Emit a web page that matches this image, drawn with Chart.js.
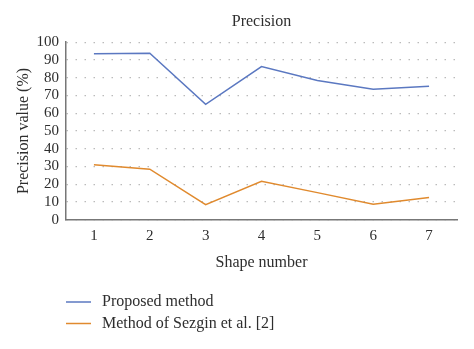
<!DOCTYPE html>
<html>
<head>
<meta charset="utf-8">
<script src="https://cdn.jsdelivr.net/npm/chart.js@4/dist/chart.umd.min.js"></script>
<style>
  html, body { margin: 0; padding: 0; background: #fff; }
  #wrap { width: 474px; height: 349px; position: relative; }
</style>
</head>
<body>
<div id="wrap"><canvas id="c"></canvas></div>
<script>
// data
const shapes = ["1", "2", "3", "4", "5", "6", "7"];
const proposed = [93.5, 93.8, 65, 86.3, 78.4, 73.5, 75.2];
const sezgin = [31, 28.5, 8.5, 21.7, 15.3, 8.7, 12.5];
const seriesNames = ["Proposed method", "Method of Sezgin et al. [2]"];

const serif = "'Liberation Serif', 'DejaVu Serif', serif";
const textColor = "#2e2e2e";

// legend stacked under the chart, like the original
const stackedLegend = {
  id: "stackedLegend",
  afterDraw(chart) {
    const ctx = chart.ctx;
    const left = chart.chartArea.left;
    ctx.save();
    ctx.font = "16px " + serif;
    ctx.textBaseline = "middle";
    chart.data.datasets.forEach((ds, i) => {
      const y = 302 + i * 21.5;
      ctx.strokeStyle = ds.borderColor;
      ctx.lineWidth = 1.5;
      ctx.beginPath();
      ctx.moveTo(left, y);
      ctx.lineTo(left + 25, y);
      ctx.stroke();
      ctx.fillStyle = textColor;
      ctx.fillText(ds.label, left + 36, y);
    });
    ctx.restore();
  }
};

new Chart(document.getElementById("c"), {
  type: "line",
  data: {
    labels: shapes,
    datasets: [
      {
        label: seriesNames[0],
        data: proposed,
        borderColor: "#5b78c1",
        borderWidth: 1.5,
        pointRadius: 0,
        tension: 0
      },
      {
        label: seriesNames[1],
        data: sezgin,
        borderColor: "#e08a2e",
        borderWidth: 1.5,
        pointRadius: 0,
        tension: 0
      }
    ]
  },
  options: {
    responsive: true,
    maintainAspectRatio: false,
    animation: false,
    layout: { padding: { left: 10, right: 17, top: 12, bottom: 73 } },
    scales: {
      x: {
        offset: true,
        grid: { display: false, drawTicks: false },
        border: { color: "#777", width: 1.5 },
        ticks: { color: textColor, font: { family: serif, size: 15 }, padding: 7 },
        title: {
          display: true,
          text: "Shape number",
          color: textColor,
          font: { family: serif, size: 16 },
          padding: { top: 1, bottom: 4 }
        }
      },
      y: {
        min: 0,
        max: 100,
        afterFit(scale) { scale.width = 56; },
        grid: { color: "#bbb", lineWidth: 1.2, drawTicks: false },
        border: { color: "#777", width: 1.5, dash: [1.5, 7.5] },
        ticks: {
          stepSize: 10,
          autoSkip: false,
          color: textColor,
          font: { family: serif, size: 15 },
          padding: 7
        },
        title: {
          display: true,
          text: "Precision value (%)",
          color: textColor,
          font: { family: serif, size: 16 },
          padding: { top: 4, bottom: 4 }
        }
      }
    },
    plugins: {
      legend: { display: false },
      tooltip: { enabled: false },
      title: {
        display: true,
        fullSize: false,
        text: "Precision",
        color: textColor,
        font: { family: serif, size: 16, weight: "normal" },
        padding: { top: 0, bottom: 11 }
      }
    }
  },
  plugins: [stackedLegend]
});
</script>
</body>
</html>
